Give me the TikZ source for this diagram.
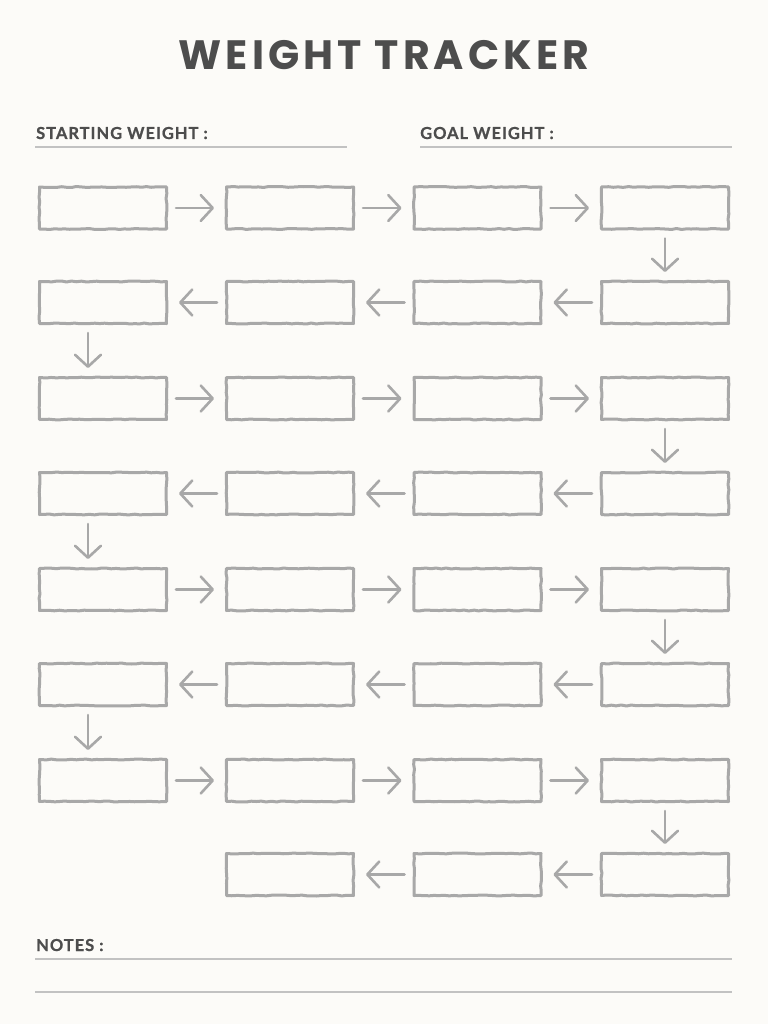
\documentclass[tikz,border=0pt]{standalone}
\usepackage{fontspec}
\setmainfont{Poppins}
\newfontfamily\titlefont[LetterSpace=10]{Poppins}
\newfontfamily\labfont[LetterSpace=6,BoldFeatures={FakeBold=0.8}]{Lato}
\usetikzlibrary{arrows.meta,decorations.pathmorphing}
\definecolor{bgcol}{HTML}{FCFBF8}
\definecolor{boxcol}{HTML}{A8A8A8}
\definecolor{txtcol}{HTML}{4D4D4D}
\definecolor{rulecol}{HTML}{C2C2C2}
\tikzset{
  wbox/.style={draw=boxcol, line width=3pt, minimum width=127pt, minimum height=42pt,
    inner sep=0pt, line join=round,
    decorate, decoration={random steps, segment length=5pt, amplitude=0.5pt}},
  flow/.style={draw=boxcol, line width=2.6pt, line cap=round,
    -{Straight Barb[length=12pt,width=26pt,line width=2.6pt,round]}},
  hflow/.style={flow, shorten <=8pt, shorten >=11pt},
  vflow/.style={flow, shorten <=8pt, shorten >=8pt},
  lab/.style={anchor=base west, inner sep=0pt, text=txtcol, font=\labfont\bfseries\fontsize{16.5}{16.5}\selectfont},
  rulel/.style={draw=rulecol, line width=1.5pt}
}
\begin{document}
\begin{tikzpicture}[x=1pt,y=-1pt]
\fill[bgcol] (0,0) rectangle (768,1024);
\useasboundingbox (0,0) rectangle (768,1024);
% title
\node[anchor=base, inner sep=0pt, text=txtcol, font=\titlefont\bfseries\fontsize{41}{41}\selectfont] (title) at (384,70) {WEIGHT TRACKER};
% header
\node[lab] (sw) at (36,139) {STARTING WEIGHT :};
\node[lab] (gw) at (420,139) {GOAL WEIGHT :};
\coordinate (sw1) at (35,147); \coordinate (sw2) at (347,147);
\coordinate (gw1) at (420,147); \coordinate (gw2) at (732,147);
\draw[rulel] (sw1) -- (sw2);
\draw[rulel] (gw1) -- (gw2);
% boxes
\def\cA{103}\def\cB{290}\def\cC{477.5}\def\cD{665}
\foreach \n/\x/\y in {1/\cA/208,2/\cB/208,3/\cC/208,4/\cD/208,
  5/\cD/302.5,6/\cC/302.5,7/\cB/302.5,8/\cA/302.5,
  9/\cA/398.5,10/\cB/398.5,11/\cC/398.5,12/\cD/398.5,
  13/\cD/493.5,14/\cC/493.5,15/\cB/493.5,16/\cA/493.5,
  17/\cA/589.5,18/\cB/589.5,19/\cC/589.5,20/\cD/589.5,
  21/\cD/684.5,22/\cC/684.5,23/\cB/684.5,24/\cA/684.5,
  25/\cA/780.5,26/\cB/780.5,27/\cC/780.5,28/\cD/780.5,
  29/\cD/874.5,30/\cC/874.5,31/\cB/874.5}
  {\node[wbox] (b\n) at (\x,\y) {};}
% right arrows
\foreach \a/\b in {1/2,2/3,3/4,9/10,10/11,11/12,17/18,18/19,19/20,25/26,26/27,27/28}
  {\draw[hflow] (b\a.east) -- (b\b.west);}
% left arrows
\foreach \a/\b in {5/6,6/7,7/8,13/14,14/15,15/16,21/22,22/23,23/24,29/30,30/31}
  {\draw[hflow] (b\a.west) -- (b\b.east);}
% down arrows right column
\foreach \a/\b in {4/5,12/13,20/21,28/29}
  {\draw[vflow] (b\a.south) -- (b\b.north);}
% down arrows left column
\foreach \a/\b in {8/9,16/17,24/25}
  {\draw[vflow] ([xshift=-15pt]b\a.south) -- ([xshift=-15pt]b\b.north);}
% notes
\node[lab] (notes) at (36,951) {NOTES :};
\coordinate (n1) at (35,959); \coordinate (n2) at (732,959);
\coordinate (n3) at (35,992); \coordinate (n4) at (732,992);
\draw[rulel] (n1) -- (n2);
\draw[rulel] (n3) -- (n4);
\end{tikzpicture}
\end{document}
